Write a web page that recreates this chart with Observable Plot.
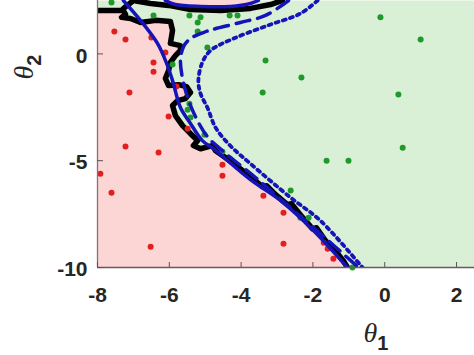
<!DOCTYPE html>
<html><head><meta charset="utf-8">
<script src="https://cdn.jsdelivr.net/npm/d3@7"></script>
<script src="https://cdn.jsdelivr.net/npm/@observablehq/plot@0.6"></script>
<style>body{margin:0;background:#fff;} svg{display:block}</style>
</head><body><div id="chart"></div>
<script>
// ---- axes ----
const xTicks = [-8, -6, -4, -2, 0, 2];
const yTicks = [-10, -5, 0];
const xDomain = [-8, 2.5];
const yDomain = [-10, 2.5];

// ---- samples ----
const redX = [-7.53,-7.22,-6.50,-6.11,-6.44,-6.44,-7.11,-5.80,-6.02,-5.49,-7.22,-6.30,-7.92,-7.61,-6.52,-4.52,-4.52,-3.38,-2.82,-2.82,-1.70,-1.59,-1.43];
const redY = [1.05,0.67,0.77,0.07,-0.40,-0.83,-1.81,-1.53,-2.93,-3.50,-4.34,-4.62,-5.61,-6.50,-9.03,-5.19,-5.70,-6.64,-7.44,-8.89,-8.84,-9.12,-9.59];
const greenX = [-7.61,-6.44,-5.44,-5.13,-5.21,-5.21,-4.32,-4.10,-4.94,-3.32,-3.40,-5.91,-5.44,-5.49,-5.41,-5.02,-4.52,-2.62,-2.35,-2.12,-0.90,-0.12,1.00,-2.32,0.38,0.50,-1.62,-1.01];
const greenY = [2.41,1.80,1.80,1.71,1.47,1.05,1.80,1.80,0.30,-0.31,-1.81,-0.50,-2.33,-2.61,-2.98,-3.78,-4.58,-6.40,-7.67,-7.67,-10.0,1.71,0.67,-1.11,-1.90,-4.39,-5.00,-5.00];

// ---- true (black) boundary ----
const blackX = [-8.00,-7.28,-7.22,-7.33,-7.08,-6.80,-6.38,-5.97,-5.91,-5.97,-5.69,-5.69,-5.83,-5.97,-6.02,-6.11,-6.02,-5.74,-5.52,-5.41,-5.55,-5.77,-5.91,-5.83,-5.63,-5.35,-5.21,-5.33,-5.13,-4.80,-4.71,-4.43,-3.88,-3.40,-3.29,-3.04,-2.71,-2.60,-2.35,-2.01,-1.90,-1.65,-1.37,-1.15,-1.04];
const blackY = [2.03,2.03,1.85,1.71,1.66,1.47,1.57,1.52,1.10,0.49,0.39,0.16,-0.08,-0.40,-0.78,-1.15,-1.48,-1.44,-1.53,-1.81,-2.09,-2.19,-2.42,-2.89,-3.36,-3.83,-4.06,-4.29,-4.44,-4.29,-4.53,-4.86,-5.56,-6.22,-6.17,-6.59,-7.06,-7.01,-7.53,-8.19,-8.14,-8.75,-9.22,-9.69,-10.0];
const blackTopX = [-7.28,-7.00,-6.52,-6.02,-5.41,-4.57,-3.74,-3.18,-2.85];
const blackTopY = [2.12,2.50,2.36,2.27,2.08,2.03,2.13,2.31,2.50];

// ---- estimated boundaries (blue) ----
const solidX = [-7.28,-6.80,-6.33,-6.08,-5.91,-5.69,-5.41,-5.08,-4.77,-3.74,-2.90,-1.98,-1.04];
const solidY = [2.50,1.56,0.49,-0.42,-1.25,-2.51,-3.26,-4.06,-4.44,-5.89,-6.87,-8.28,-10.0];
const solidTopX = [-6.11,-5.83,-5.13,-4.30,-3.74,-3.52];
const solidTopY = [2.50,2.31,2.22,2.22,2.36,2.50];
const dashedX = [-2.68,-3.32,-4.02,-4.80,-5.05,-5.41,-5.60,-5.69,-5.55,-5.27,-4.94,-4.52,-3.60,-2.76,-1.79,-0.73];
const dashedY = [2.50,1.80,1.47,1.14,1.00,0.72,0.35,-0.31,-1.72,-2.94,-3.87,-4.53,-5.79,-7.01,-8.42,-10.0];
const dottedX = [-1.87,-2.35,-3.26,-4.21,-4.85,-5.08,-5.19,-5.13,-4.94,-4.71,-4.30,-3.74,-2.62,-1.79,-0.62];
const dottedY = [2.50,1.89,1.33,0.72,0.16,-0.40,-1.25,-1.86,-2.51,-3.45,-4.30,-5.14,-6.73,-7.81,-10.0];

const zip = (xs, ys) => xs.map((x, i) => ({x, y: ys[i]}));
const red = zip(redX, redY), green = zip(greenX, greenY);
const black = zip(blackX, blackY), blackTop = zip(blackTopX, blackTopY);
const solid = zip(solidX, solidY), solidTop = zip(solidTopX, solidTopY);
const dashed = zip(dashedX, dashedY), dotted = zip(dottedX, dottedY);

const W = 474, H = 355, mL = 97, mR = 0, mT = 0, mB = 88;
const tickLenY = 5 * (yDomain[1] - yDomain[0]) / (H - mT - mB);
const tickLenX = 6 * (xDomain[1] - xDomain[0]) / (W - mL - mR);

const PINK = "#fcd5d5", GREEN = "#d9f0d6", BLUE = "#1414b8";

const chart = Plot.plot({
  width: W, height: H,
  marginLeft: mL, marginRight: mR, marginTop: mT, marginBottom: mB,
  x: {domain: xDomain},
  y: {domain: yDomain},
  style: {fontFamily: "'Liberation Sans', Arial, sans-serif", fontSize: "21px", fontWeight: "bold", color: "#262626", background: "white", overflow: "visible"},
  marks: [
    Plot.frame({fill: GREEN, stroke: "none"}),
    Plot.areaX(black, {x1: xDomain[0], x2: "x", y: "y", fill: PINK}),
    Plot.areaY(solidTop, {x: "x", y1: yDomain[1], y2: "y", fill: PINK, curve: "catmull-rom"}),
    Plot.line(black, {x: "x", y: "y", stroke: "black", strokeWidth: 5.5, strokeLinejoin: "round", clip: true}),
    Plot.line(blackTop, {x: "x", y: "y", stroke: "black", strokeWidth: 5.5, strokeLinejoin: "round", clip: true}),
    Plot.dot(red, {x: "x", y: "y", r: 3, fill: "#e0201e", stroke: "none"}),
    Plot.dot(green, {x: "x", y: "y", r: 3, fill: "#1f9a2a", stroke: "none"}),
    Plot.line(solid, {x: "x", y: "y", stroke: BLUE, strokeWidth: 3.5, curve: "catmull-rom", clip: true}),
    Plot.line(solidTop, {x: "x", y: "y", stroke: BLUE, strokeWidth: 3.5, curve: "catmull-rom", clip: true}),
    Plot.line(dashed, {x: "x", y: "y", stroke: BLUE, strokeWidth: 3.5, strokeDasharray: "14,8", curve: "catmull-rom", clip: true}),
    Plot.line(dotted, {x: "x", y: "y", stroke: BLUE, strokeWidth: 3.8, strokeDasharray: "3,4.5", curve: "catmull-rom", clip: true}),
    Plot.ruleX([xDomain[0]], {stroke: "#8a7070", strokeWidth: 1.3}),
    Plot.ruleY([yDomain[0]], {stroke: "#6a5a5a", strokeWidth: 1.3}),
    Plot.ruleX(xTicks, {x: d => d, y1: yDomain[0], y2: yDomain[0] + tickLenY, stroke: "#555", strokeWidth: 1}),
    Plot.ruleY(yTicks, {y: d => d, x1: xDomain[0], x2: xDomain[0] + tickLenX, stroke: "#555", strokeWidth: 1}),
    Plot.axisX(xTicks, {tickSize: 0, tickPadding: 20, label: null, fill: "#262626", tickFormat: d => String(d)}),
    Plot.axisY(yTicks, {tickSize: 0, tickPadding: 10, label: null, fill: "#262626", dy: 2, tickFormat: d => String(d)})
  ]
});

const svg = d3.select(chart);
const t1 = svg.append("text").attr("x", 376).attr("y", 342).attr("fill", "#262626");
t1.append("tspan").text("θ").attr("font-family", "'Liberation Serif', 'DejaVu Serif', serif").attr("font-style", "italic").attr("font-weight", "normal").attr("font-size", 28);
t1.append("tspan").text("1").attr("dy", 8).attr("font-size", 20).attr("font-weight", "bold");

const t2 = svg.append("text").attr("transform", "translate(33,67) rotate(-90)").attr("fill", "#262626");
t2.append("tspan").text("θ").attr("font-family", "'Liberation Serif', 'DejaVu Serif', serif").attr("font-style", "italic").attr("font-weight", "normal").attr("font-size", 28);
t2.append("tspan").text("2").attr("dy", 8).attr("font-size", 20).attr("font-weight", "bold");

document.getElementById("chart").appendChild(chart);
</script>
</body></html>
